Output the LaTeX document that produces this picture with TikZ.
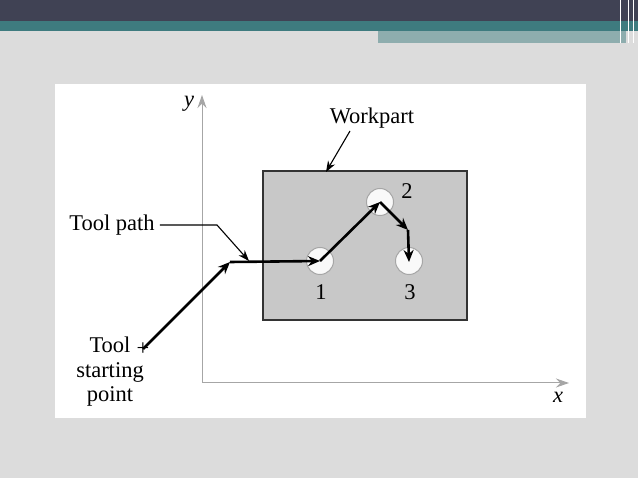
\documentclass[tikz,border=0pt]{standalone}
\usepackage{fontspec}
\setmainfont{Liberation Serif}
\usetikzlibrary{arrows.meta}

\definecolor{slidebg}{HTML}{DCDCDC}
\definecolor{darkband}{HTML}{404254}
\definecolor{tealband}{HTML}{3E7B7F}
\definecolor{lightteal}{HTML}{8EADAE}
\definecolor{partgray}{HTML}{C8C8C8}

\begin{document}
\begin{tikzpicture}[x=1pt,y=-1pt,
  lbl/.style={font=\fontsize{22.5}{24.5}\selectfont,inner sep=0pt},
  hole/.style={circle,draw=gray!70,fill=white!95!gray,line width=1pt,minimum size=27pt,inner sep=0pt},
  toolpath/.style={line width=2.6pt,-{Stealth[length=12pt,width=10pt]}},
  leader/.style={line width=1.1pt,-{Stealth[length=11pt,width=8pt]}},
  axis/.style={gray!70,line width=1pt,-{Stealth[length=13pt,width=9pt]}}]
\useasboundingbox (0,0) rectangle (638,478);
% slide background
\fill[slidebg] (0,0) rectangle (638,478);
\fill[darkband] (0,0) rectangle (638,21);
\fill[tealband] (0,21) rectangle (638,31);
\fill[lightteal] (378,31) rectangle (626,43);
\draw[white,line width=0.8pt] (620,0) -- (620,43);
\draw[white,line width=0.8pt] (628,0) -- (628,43);
\draw[white,line width=0.8pt] (633,0) -- (633,43);
\fill[white] (55,84) rectangle (586,418);
% axes
\coordinate (O) at (202,383);
\coordinate (ytop) at (202,95);
\coordinate (xend) at (569,383);
\draw[axis] (O) -- (ytop);
\draw[axis] (O) -- (xend);
\node[lbl] (ylab) at (189,104) {\textit{y}};
\node[lbl] (xlab) at (558,397) {\textit{x}};
% workpart
\node[draw=black!80,fill=partgray,line width=1.2pt,minimum width=204pt,minimum height=149pt] (part) at (365,245.5) {};
\node[hole] (h1) at (320,261) {};
\node[hole] (h2) at (380,202) {};
\node[hole] (h3) at (409,261) {};
\node[lbl] (n1) at (321,292) {1};
\node[lbl] (n2) at (407,191) {2};
\node[lbl] (n3) at (410,292) {3};
% tool path
\node[lbl] (startmark) at (143,349) {+};
\coordinate (bend1) at (230,262);
\coordinate (bend2) at (408,230);
\draw[toolpath] (startmark.center) -- (bend1);
\draw[toolpath] (bend1) -- (h1.center);
\draw[toolpath] (h1.center) -- (h2.center);
\draw[toolpath] (h2.center) -- (bend2);
\draw[toolpath] (bend2) -- ([yshift=-1pt]h3.center);
% labels
\node[lbl,align=center] (startlbl) at (110,372) {Tool\\starting\\point};
\node[lbl] (pathlbl) at (112,225) {Tool path};
\coordinate (pathknee) at (217,225);
\coordinate (pathtip) at (249,261);
\draw[leader] ([xshift=5pt]pathlbl.east) -- (pathknee) -- (pathtip);
\node[lbl] (partlbl) at (372,118) {Workpart};
\coordinate (parttail) at (350,131);
\coordinate (parttip) at (326,172);
\draw[leader] (parttail) -- (parttip);
\end{tikzpicture}
\end{document}
